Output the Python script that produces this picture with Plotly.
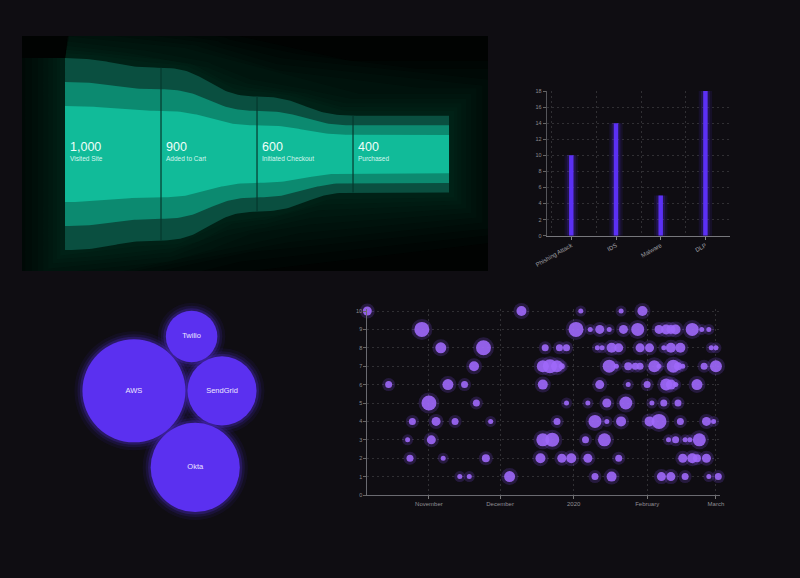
import numpy as np
import plotly.graph_objects as go

W, H = 800, 578
BG = "#0f0d12"
FONT = "Liberation Sans, Arial, sans-serif"

# funnel (top left)
funnel_labels = ["Visited Site", "Added to Cart", "Initiated Checkout", "Purchased"]
funnel_values = [1000, 900, 600, 400]
funnel_mid = [750, 675, 450, 300]
funnel_inner = [500, 450, 300, 200]

# bar chart (top right)
threat_types = ["Phishing Attack", "IDS", "Malware", "DLP"]
threat_counts = [10, 14, 5, 18]

# bubble pack (bottom left)
services = ["AWS", "SendGrid", "Okta", "Twilio"]
service_sizes = [100, 45, 75, 25]

# bubble timeline (bottom right): (date, bubble size) per level
month_ticks = ["2019-11-01", "2019-12-01", "2020-01-01", "2020-02-01", "2020-03-01"]
month_labels = ["November", "December", "2020", "February", "March"]

level_10 = [("2019-10-06", 9), ("2019-12-10", 10), ("2020-01-04", 5), ("2020-01-21", 5), ("2020-01-30", 10)]
level_9 = [("2019-10-29", 15), ("2020-01-02", 15), ("2020-01-08", 5), ("2020-01-12", 9), ("2020-01-16", 5),
           ("2020-01-22", 9), ("2020-01-28", 13), ("2020-02-06", 9), ("2020-02-09", 10), ("2020-02-11", 9),
           ("2020-02-13", 10), ("2020-02-20", 13), ("2020-02-24", 5), ("2020-02-27", 5)]
level_8 = [("2019-11-06", 11), ("2019-11-24", 15), ("2019-12-20", 7), ("2019-12-26", 7), ("2019-12-29", 7),
           ("2020-01-11", 5), ("2020-01-13", 5), ("2020-01-17", 10), ("2020-01-20", 9), ("2020-01-29", 9),
           ("2020-02-02", 9), ("2020-02-08", 5), ("2020-02-11", 10), ("2020-02-15", 10), ("2020-02-28", 5),
           ("2020-03-01", 5)]
level_7 = [("2019-11-20", 10), ("2019-12-19", 12), ("2019-12-22", 14), ("2019-12-25", 12), ("2019-12-27", 6),
           ("2020-01-16", 13), ("2020-01-19", 5), ("2020-01-24", 8), ("2020-01-27", 7), ("2020-01-29", 7),
           ("2020-02-04", 12), ("2020-02-06", 5), ("2020-02-12", 13), ("2020-02-14", 8), ("2020-02-16", 5),
           ("2020-02-25", 7), ("2020-03-01", 12)]
level_6 = [("2019-10-15", 7), ("2019-11-09", 11), ("2019-11-16", 7), ("2019-12-19", 10), ("2020-01-12", 9),
           ("2020-01-24", 5), ("2020-02-01", 7), ("2020-02-09", 12), ("2020-02-11", 10), ("2020-02-13", 5),
           ("2020-02-22", 11)]
level_5 = [("2019-11-01", 15), ("2019-11-21", 7), ("2019-12-29", 5), ("2020-01-07", 5), ("2020-01-15", 9),
           ("2020-01-23", 13), ("2020-02-03", 5), ("2020-02-08", 7), ("2020-02-14", 7)]
level_4 = [("2019-10-25", 7), ("2019-11-04", 9), ("2019-11-12", 7), ("2019-11-27", 5), ("2019-12-25", 7),
           ("2020-01-10", 13), ("2020-01-15", 5), ("2020-01-21", 10), ("2020-02-02", 10), ("2020-02-06", 15),
           ("2020-02-15", 7), ("2020-02-26", 9), ("2020-02-29", 5)]
level_3 = [("2019-10-23", 5), ("2019-11-02", 9), ("2019-12-19", 13), ("2019-12-23", 14), ("2020-01-06", 7),
           ("2020-01-14", 13), ("2020-02-10", 5), ("2020-02-13", 7), ("2020-02-17", 5), ("2020-02-19", 5),
           ("2020-02-23", 13)]
level_2 = [("2019-10-24", 7), ("2019-11-07", 5), ("2019-11-25", 8), ("2019-12-18", 10), ("2019-12-27", 9),
           ("2019-12-31", 10), ("2020-01-07", 9), ("2020-01-20", 7), ("2020-02-16", 9), ("2020-02-20", 10),
           ("2020-02-22", 8), ("2020-02-26", 9)]
level_1 = [("2019-11-14", 5), ("2019-11-18", 5), ("2019-12-05", 11), ("2020-01-10", 7), ("2020-01-17", 10),
           ("2020-02-07", 9), ("2020-02-11", 9), ("2020-02-17", 7), ("2020-02-27", 5), ("2020-03-02", 7)]
bubble_levels = {10: level_10, 9: level_9, 8: level_8, 7: level_7, 6: level_6,
                 5: level_5, 4: level_4, 3: level_3, 2: level_2, 1: level_1}


def dom_x(left, right):
    return [left / W, right / W]


def dom_y(top, bottom):
    return [1 - bottom / H, 1 - top / H]


def funnel_edge(vals, n=40):
    # top edge of the funnel: bezier from each stage to the next, last stage flat
    xs, ys = [], []
    t = np.linspace(0, 1, n)
    for i, v0 in enumerate(vals):
        v1 = vals[i + 1] if i + 1 < len(vals) else v0
        bx = (1 - t) ** 3 * i + 3 * (1 - t) ** 2 * t * (i + 0.5) + 3 * (1 - t) * t ** 2 * (i + 0.5) + t ** 3 * (i + 1)
        by = (1 - t) ** 3 * v0 + 3 * (1 - t) ** 2 * t * v0 + 3 * (1 - t) * t ** 2 * v1 + t ** 3 * v1
        xs.extend(bx)
        ys.extend(by / 2)
    xs, ys = np.array(xs), np.array(ys)
    return np.concatenate([xs, xs[::-1], xs[:1]]), np.concatenate([ys, -ys[::-1], ys[:1]])


fig = go.Figure()

# ---- funnel ----
ox, oy = funnel_edge(funnel_values)
for w in [110, 94, 80, 67, 55, 44, 34, 25, 17, 10]:
    fig.add_trace(go.Scatter(x=ox, y=oy, mode="lines", line=dict(color="rgba(14,125,100,0.03)", width=w),
                             hoverinfo="skip", xaxis="x", yaxis="y"))
for vals, col in [(funnel_values, "#0a4f40"), (funnel_mid, "#0c8a70"), (funnel_inner, "#11bb99")]:
    fx, fy = funnel_edge(vals)
    fig.add_trace(go.Scatter(x=fx, y=fy, mode="lines", fill="toself", fillcolor=col,
                             line=dict(width=0, color=col), hoverinfo="skip", xaxis="x", yaxis="y"))
for i, v in enumerate(funnel_values[1:], start=1):
    fig.add_trace(go.Scatter(x=[i, i], y=[-v / 2, v / 2], mode="lines", line=dict(color="#06382d", width=1.2),
                             hoverinfo="skip", xaxis="x", yaxis="y"))

annotations = []
for i, (lab, v) in enumerate(zip(funnel_labels, funnel_values)):
    annotations.append(dict(x=i + 0.03, y=0, xref="x", yref="y", text=f"{v:,}", showarrow=False,
                            xanchor="left", yanchor="middle", yshift=7.5,
                            font=dict(size=12.5, color="#effffa", family=FONT)))
    annotations.append(dict(x=i + 0.03, y=0, xref="x", yref="y", text=lab, showarrow=False,
                            xanchor="left", yanchor="middle", yshift=-4.5,
                            font=dict(size=6.5, color="#d6f6ee", family=FONT)))

# ---- bar chart ----
idx = list(range(len(threat_types)))
for wd, col in [(0.3, "rgba(91,48,245,0.10)"), (0.2, "rgba(91,48,245,0.18)"), (0.1, "#5b30f5")]:
    fig.add_trace(go.Bar(x=idx, y=threat_counts, width=wd, marker=dict(color=col, line=dict(width=0)),
                         hoverinfo="skip", xaxis="x2", yaxis="y2"))

# ---- bubble pack ----
pad = 2
radii = [np.sqrt(v) * 5.15 for v in service_sizes]
pos = [np.array([0.0, 0.0]), np.array([radii[0] + radii[1] + pad, 0.0])]


def tangent(r, sign):
    d1, d2 = radii[0] + r + pad, radii[1] + r + pad
    ab = pos[1][0]
    x = (d1 ** 2 - d2 ** 2 + ab ** 2) / (2 * ab)
    return np.array([x, sign * np.sqrt(d1 ** 2 - x ** 2)])


pos.append(tangent(radii[2], 1))
pos.append(tangent(radii[3], -1))
pos = np.array(pos)
rad = np.array(radii)
lo = (pos - rad[:, None]).min(axis=0)
hi = (pos + rad[:, None]).max(axis=0)
pos = pos - (lo + hi) / 2 + np.array([169.5, 411.4])

for extra, col in [(16, "rgba(91,48,240,0.07)"), (10, "rgba(91,48,240,0.12)"), (5, "rgba(91,48,240,0.22)")]:
    fig.add_trace(go.Scatter(x=pos[:, 0], y=pos[:, 1], mode="markers",
                             marker=dict(size=2 * rad + extra, color=col, opacity=1, line=dict(width=0)),
                             hoverinfo="skip", cliponaxis=False, xaxis="x3", yaxis="y3"))
fig.add_trace(go.Scatter(x=pos[:, 0], y=pos[:, 1], mode="markers+text", text=services,
                         textposition="middle center", textfont=dict(size=7.5, color="#ece6ff", family=FONT),
                         marker=dict(size=2 * rad, color="#5b30f0", opacity=1, line=dict(width=0)),
                         hoverinfo="skip", cliponaxis=False, xaxis="x3", yaxis="y3"))

# ---- bubble timeline ----
bx, by, bs = [], [], []
for lvl, pts in bubble_levels.items():
    for d, s in pts:
        bx.append(d)
        by.append(lvl)
        bs.append(s)
bs = np.array(bs)
fig.add_trace(go.Scatter(x=bx, y=by, mode="markers",
                         marker=dict(size=bs + 6, color="rgba(130,80,240,0.2)", opacity=1, line=dict(width=0)),
                         hoverinfo="skip", cliponaxis=False, xaxis="x4", yaxis="y4"))
fig.add_trace(go.Scatter(x=bx, y=by, mode="markers",
                         marker=dict(size=bs, color="rgba(158,104,250,0.9)", opacity=1, line=dict(width=0)),
                         hoverinfo="skip", cliponaxis=False, xaxis="x4", yaxis="y4"))

grid = "rgba(255,255,255,0.14)"
tickfont = dict(size=5.5, color="#8a8a8f", family=FONT)

fig.update_layout(
    width=W, height=H, margin=dict(l=0, r=0, t=0, b=0, autoexpand=False),
    paper_bgcolor=BG, plot_bgcolor="rgba(0,0,0,0)",
    showlegend=False, barmode="overlay", font=dict(family=FONT),
    annotations=annotations,
    shapes=[dict(type="rect", xref="paper", yref="paper", x0=22 / W, x1=488 / W,
                 y0=1 - 271 / H, y1=1 - 36 / H, fillcolor="#010302", line=dict(width=0), layer="below")],
    xaxis=dict(domain=dom_x(22, 488), range=[-0.448, 4.406], visible=False, fixedrange=True),
    yaxis=dict(domain=dom_y(36, 271), range=[-609, 615], visible=False, fixedrange=True),
    xaxis2=dict(domain=dom_x(546.7, 730), range=[-0.55, 3.55], anchor="y2",
                tickvals=idx, ticktext=threat_types, tickangle=-30, ticks="outside", ticklen=3,
                tickcolor="#888", tickfont=dict(size=6, color="#a0a0a6", family=FONT),
                showline=True, linecolor="#77777c", linewidth=1, showgrid=False, zeroline=False,
                minor=dict(tick0=-0.44, dtick=1, showgrid=True, gridcolor=grid, griddash="2px,3px", ticklen=0)),
    yaxis2=dict(domain=dom_y(91, 235.7), range=[0, 18], dtick=2, anchor="x2",
                ticks="outside", ticklen=3, tickcolor="#666", tickfont=tickfont,
                showline=True, linecolor="#55555a", gridcolor=grid, griddash="2px,3px", zeroline=False),
    xaxis3=dict(domain=[0, 1], range=[0, W], visible=False, anchor="y3"),
    yaxis3=dict(domain=[0, 1], range=[H, 0], visible=False, anchor="x3"),
    xaxis4=dict(domain=dom_x(367.3, 719.5), range=["2019-10-06", "2020-03-02 12:00"], type="date", anchor="y4",
                tickvals=month_ticks, ticktext=month_labels, ticks="outside", ticklen=3, tickcolor="#777",
                tickfont=dict(size=6, color="#8f8f95", family=FONT),
                showline=True, linecolor="#6a6a70", gridcolor=grid, griddash="2px,3px", zeroline=False),
    yaxis4=dict(domain=dom_y(309, 495), range=[0, 10.11], dtick=1, anchor="x4",
                ticks="outside", ticklen=3, tickcolor="#666", tickfont=tickfont,
                showline=True, linecolor="#6a6a70", gridcolor=grid, griddash="2px,3px", zeroline=False),
)

# page without the default body margin so the figure fills the window
fig.write_html("out.html", config={"displayModeBar": False},
               post_script="document.body.style.margin='0';document.body.style.background='%s';" % BG)
